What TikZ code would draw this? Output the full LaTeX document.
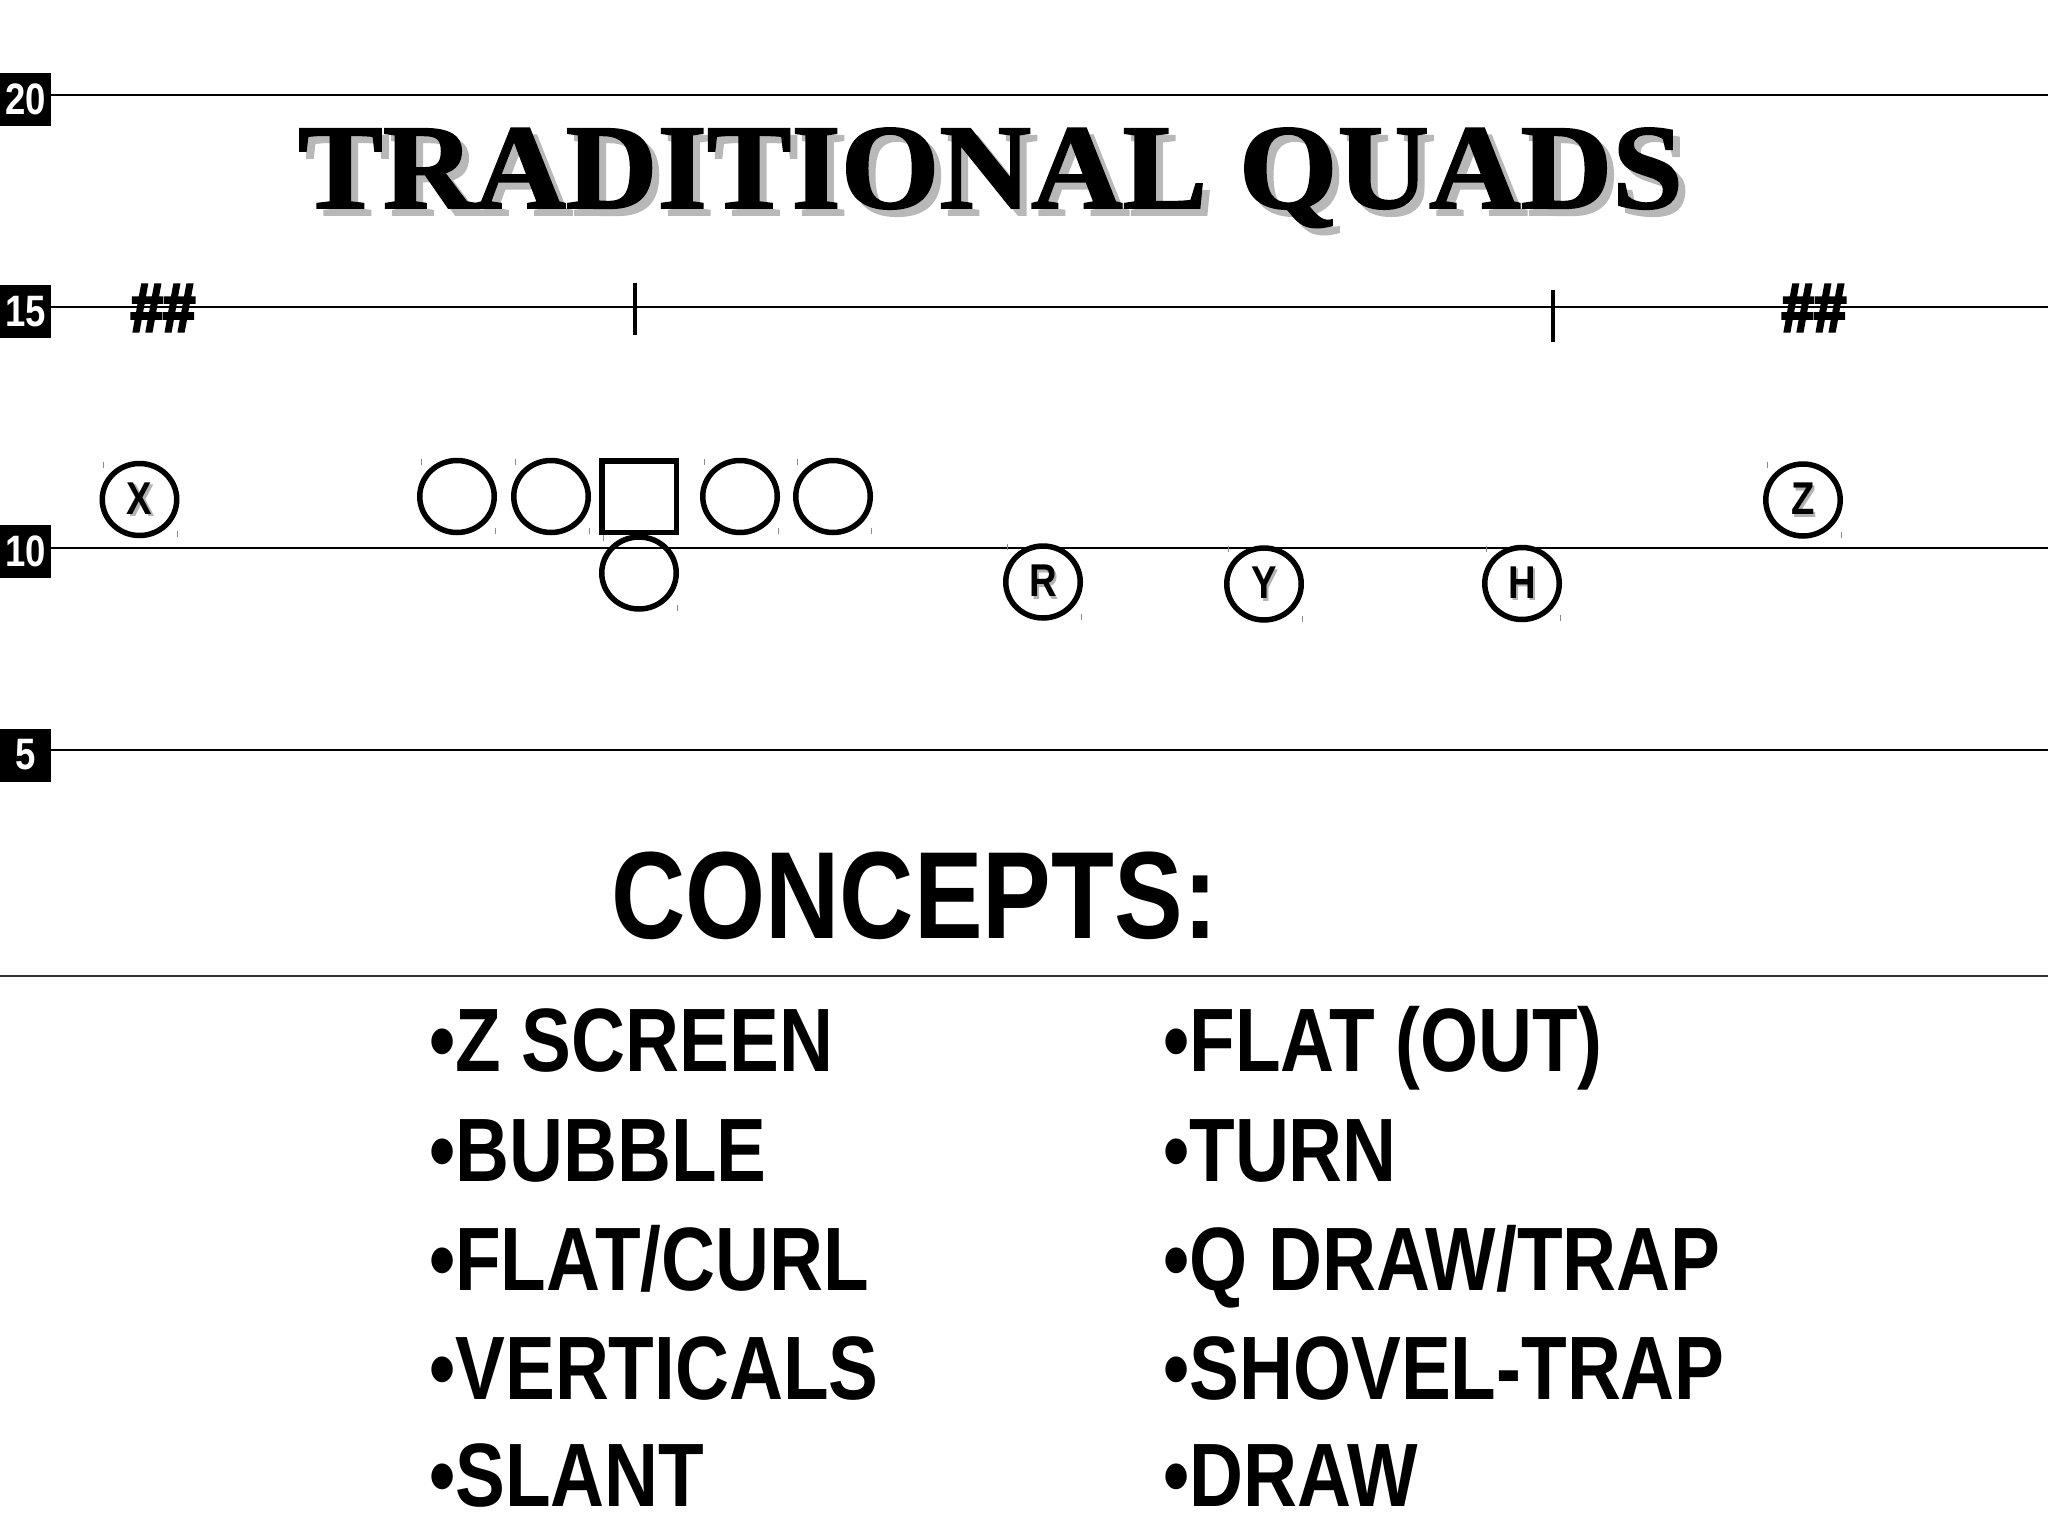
\documentclass[tikz,border=0pt]{standalone}
\usepackage{fontspec}
\usetikzlibrary{shapes.geometric}
\newfontfamily\narrowb[FakeStretch=0.83]{Liberation Sans Bold}
\newfontfamily\hashfont[FakeStretch=0.85,FakeBold=4]{Liberation Sans Bold}
\newfontfamily\titleserif[FakeBold=1.5]{Liberation Serif Bold}
\newcommand\shd[1]{\makebox[0pt][l]{\hspace{2.5pt}\raisebox{-2.5pt}{\textcolor{black!30}{#1}}}#1}
\tikzset{
  yard/.style={line width=2pt, black},
  numbox/.style={fill=black, text=white, inner sep=0pt, minimum width=51pt, minimum height=53pt,
     font=\narrowb\fontsize{44}{44}\selectfont},
  hashmark/.style={inner sep=0pt, font=\hashfont\fontsize{68}{68}\selectfont},
  player/.style={ellipse, draw=black, line width=5.5pt, inner sep=0pt, minimum width=74.5pt,
     minimum height=72pt, font=\narrowb\fontsize{46}{46}\selectfont},
  center/.style={rectangle, draw=black, line width=5.5pt, inner sep=0pt, minimum width=74.5pt,
     minimum height=71.5pt},
  artick/.style={black!45, line width=0.8pt},
  hashtick/.style={line width=3.5pt, black},
  bigtxt/.style={anchor=base west, inner sep=0pt, font=\narrowb\fontsize{124}{124}\selectfont},
  item/.style={anchor=base west, inner sep=0pt, font=\narrowb\fontsize{90}{90}\selectfont},
}
\begin{document}
\begin{tikzpicture}[x=1pt,y=-1pt]
\useasboundingbox[fill=white] (0,0) rectangle (2048,1536);

% yard numbers and lines
\node[numbox] (n20) at (25.5,99.5) {20};
\node[numbox] (n15) at (25.5,311.5) {15};
\node[numbox] (n10) at (25.5,551.5) {10};
\node[numbox] (n5)  at (25.5,755) {5};
\draw[yard] (51,95) -- (2048,95);
\draw[yard] (51,307) -- (2048,307);
\draw[yard] (51,548) -- (2048,548);
\draw[yard] (51,750) -- (2048,750);

% hash marks
\node[hashmark] (hashL) at (163,308) {\#\#};
\node[hashmark] (hashR) at (1814,308) {\#\#};
\draw[hashtick] (635,283) -- (635,335);
\draw[hashtick] (1553,290) -- (1553,342);

% title
\node[anchor=base west, inner sep=0pt, text=black!28] (titleshadow) at (305,215)
  {\resizebox{1384pt}{80pt}{\titleserif TRADITIONAL QUADS}};
\node[anchor=base west, inner sep=0pt] (title) at (298,208)
  {\resizebox{1384pt}{80pt}{\titleserif TRADITIONAL QUADS}};

% players
\node[player] (X) at (139.5,499.5) {\shd{X}};
\node[player] (OL1) at (457,496.5) {};
\node[player] (OL2) at (551,496.5) {};
\node[center] (C) at (639,496.5) {};
\node[player] (OL4) at (740,496.5) {};
\node[player] (OL5) at (833,496.5) {};
\node[player] (QB) at (639,573) {};
\node[player] (R) at (1043,582) {\shd{R}};
\node[player] (Y) at (1264,584) {\shd{Y}};
\node[player] (H) at (1522,583.5) {\shd{H}};
\node[player] (Z) at (1803,500) {\shd{Z}};

% faint corner ticks
\foreach \p in {X,OL1,OL2,OL4,OL5,QB,R,Y,H,Z}{
  \draw[artick] ([xshift=-36pt,yshift=-1pt]\p.north) -- ++(0,6);
  \draw[artick] ([xshift=38pt,yshift=1pt]\p.south) -- ++(0,-6);
}

% concepts
\node[bigtxt] (concepts) at (611,938) {CONCEPTS:};
\draw[line width=2.5pt, black!80] (0,976) -- (2048,976);

\node[item] (i1) at (429,1071) {•Z SCREEN};
\node[item] (i2) at (429,1181) {•BUBBLE};
\node[item] (i3) at (429,1290) {•FLAT/CURL};
\node[item] (i4) at (429,1399) {•VERTICALS};
\node[item] (i5) at (429,1506) {•SLANT};
\node[item] (j1) at (1163,1071) {•FLAT (OUT)};
\node[item] (j2) at (1163,1181) {•TURN};
\node[item] (j3) at (1163,1290) {•Q DRAW/TRAP};
\node[item] (j4) at (1163,1399) {•SHOVEL-TRAP};
\node[item] (j5) at (1163,1506) {•DRAW};
\end{tikzpicture}
\end{document}
